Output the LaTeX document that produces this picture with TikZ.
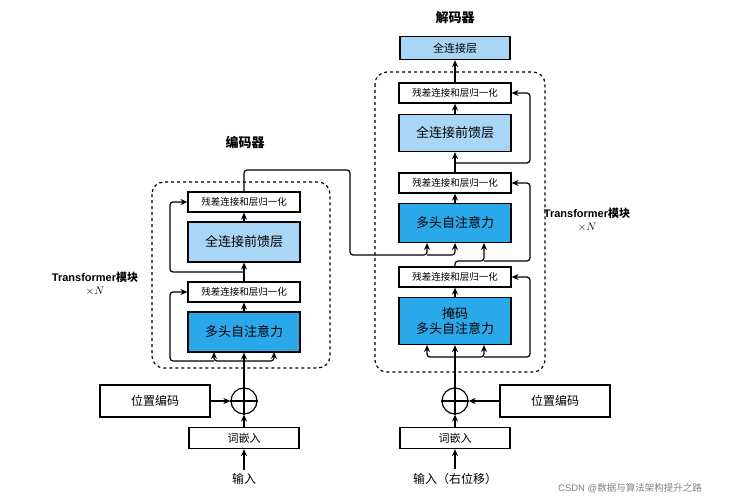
\documentclass[tikz,border=0pt]{standalone}
\usepackage{fontspec}
\setmainfont{Liberation Sans}
\newfontfamily\cjk{Noto Sans CJK SC}
\usetikzlibrary{arrows.meta}
\definecolor{lb}{HTML}{A9D6F7}
\definecolor{db}{HTML}{2AA9EA}
\begin{document}
\begin{tikzpicture}[x=1pt,y=-1pt,line width=1.2pt,
  bx/.style={draw,line width=1.2pt,inner sep=0,font=\cjk},
  nrm/.style={bx,fill=white,minimum width=112pt,minimum height=20pt,font=\cjk\fontsize{9.5}{10}\selectfont},
  big/.style={bx,minimum width=112pt,minimum height=40pt,font=\cjk\fontsize{13}{15}\selectfont},
  ar/.style={-{Stealth[length=7pt,width=6pt]},rounded corners=3pt},
  dsh/.style={dashed,rounded corners=12pt},
  lbl/.style={font=\cjk\bfseries\fontsize{13}{15}\selectfont}]
\useasboundingbox (0,0) rectangle (739,500);
% ---------- encoder ----------
\node[lbl] (enct) at (245,143) {编码器};
\draw[dsh] (152,182) rectangle (330,368);
\node[nrm] (en2) at (244,202) {残差连接和层归一化};
\node[big,fill=lb] (effn) at (244,242) {全连接前馈层};
\node[nrm] (en1) at (244,292) {残差连接和层归一化};
\node[big,fill=db] (emha) at (244,332) {多头自注意力};
\node[font=\bfseries\fontsize{11}{13}\selectfont,align=center] (etn) at (95,284) {Transformer{\cjk 模块}\\$\times N$};
\node[bx,minimum width=110pt,minimum height=32pt,font=\cjk\fontsize{12}{14}\selectfont] (epos) at (155,401) {位置编码};
\node[draw,circle,minimum size=26pt,inner sep=0] (eplus) at (244,401) {};
\draw (eplus.north)--(eplus.south) (eplus.west)--(eplus.east);
\node[bx,minimum width=110pt,minimum height=21pt,font=\cjk\fontsize{11}{13}\selectfont] (eemb) at (244,438) {词嵌入};
\node[lbl,font=\cjk\fontsize{12}{14}\selectfont] (ein) at (244,479) {输入};
\coordinate (ea) at (244,361);
\draw[ar] (ein.north) -- (eemb.south);
\draw[ar] (eemb.north) -- (eplus.south);
\draw[ar] (epos.east) -- (eplus.west);
\draw[ar] (eplus.north) -- (emha.south);
\draw[ar] (ea) -- (214,361) -- (214,352);
\draw[ar] (ea) -- (274,361) -- (274,352);
\draw[ar] (214,361) -- (170,361) -- (170,292) -- (en1.west);
\draw[ar] (emha.north) -- (en1.south);
\draw[ar] (en1.north) -- (effn.south);
\draw[ar] (244,272) -- (170,272) -- (170,202) -- (en2.west);
\draw[ar] (effn.north) -- (en2.south);
% ---------- decoder ----------
\node[lbl] (dect) at (455,18) {解码器};
\node[bx,fill=lb,minimum width=110pt,minimum height=23pt,font=\cjk\fontsize{11}{13}\selectfont] (dfc) at (455,48) {全连接层};
\draw[dsh] (375,72) rectangle (545,372);
\node[nrm] (dn3) at (455,93) {残差连接和层归一化};
\node[big,fill=lb,minimum height=37pt] (dffn) at (455,133) {全连接前馈层};
\node[nrm] (dn2) at (455,183) {残差连接和层归一化};
\node[big,fill=db,minimum height=39pt] (dmha2) at (455,223) {多头自注意力};
\node[nrm] (dn1) at (455,277) {残差连接和层归一化};
\node[big,fill=db,minimum height=47pt,align=center] (dmha1) at (455,321) {掩码\\多头自注意力};
\node[font=\bfseries\fontsize{11}{13}\selectfont,align=center] (dtn) at (587,220) {Transformer{\cjk 模块}\\$\times N$};
\node[bx,minimum width=110pt,minimum height=32pt,font=\cjk\fontsize{12}{14}\selectfont] (dpos) at (555,401) {位置编码};
\node[draw,circle,minimum size=26pt,inner sep=0] (dplus) at (455,401) {};
\draw (dplus.north)--(dplus.south) (dplus.west)--(dplus.east);
\node[bx,minimum width=110pt,minimum height=21pt,font=\cjk\fontsize{11}{13}\selectfont] (demb) at (455,438) {词嵌入};
\node[lbl,font=\cjk\fontsize{12}{14}\selectfont] (din) at (455,479) {输入（右位移）};
\coordinate (da) at (455,357);
\draw[ar] (din.north) -- (demb.south);
\draw[ar] (demb.north) -- (dplus.south);
\draw[ar] (dpos.west) -- (dplus.east);
\draw[ar] (dplus.north) -- (dmha1.south);
\draw[ar] (da) -- (427,357) -- (427,345);
\draw[ar] (da) -- (484,357) -- (484,345);
\draw[ar] (484,357) -- (530,357) -- (530,277) -- (dn1.east);
\draw[ar] (dmha1.north) -- (dn1.south);
\draw[ar] (dn1.north) -- (455,261) -- (484,261) -- (484,243);
\draw[ar] (484,261) -- (530,261) -- (530,183) -- (dn2.east);
\draw[ar] (en2.north) -- (244,170) -- (350,170) -- (350,255) -- (427,255) -- (427,243);
\draw[ar] (427,255) -- (455,255) -- (455,243);
\draw[ar] (dmha2.north) -- (dn2.south);
\draw[ar] (dn2.north) -- (dffn.south);
\draw[ar] (455,163) -- (530,163) -- (530,93) -- (dn3.east);
\draw[ar] (dffn.north) -- (dn3.south);
\draw[ar] (dn3.north) -- (dfc.south);
\node[text=gray,font=\fontsize{9.5}{11}\selectfont] (wm) at (630,488) {CSDN @{\cjk 数据与算法架构提升之路}};
\end{tikzpicture}
\end{document}
